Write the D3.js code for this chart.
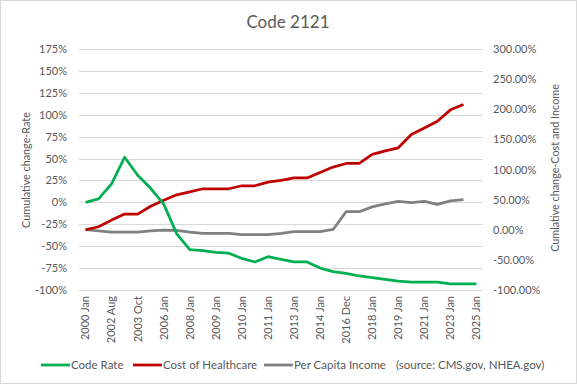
<!DOCTYPE html>
<html>
<head>
<meta charset="utf-8">
<script src="https://cdn.jsdelivr.net/npm/d3@7"></script>
<style>
  body { margin: 0; background: #fff; }
  text { font-family: Lato, "Open Sans", sans-serif; fill: #595959; }
</style>
</head>
<body>
<div id="chart"></div>
<script>
var svgWidth = 577;
var svgHeight = 384;

// categories (only every other one is labelled on the axis)
var periods = ["2000 Jan", "2001 Jan", "2002 Aug", "2003 Jan", "2003 Oct", "2005 Jan",
  "2006 Jan", "2007 Jan", "2008 Jan", "2008 Jul", "2009 Jan", "2009 Jul", "2010 Jan",
  "2010 Jul", "2011 Jan", "2012 Jan", "2013 Jan", "2013 Jul", "2014 Jan", "2015 Jan",
  "2016 Dec", "2017 Jan", "2018 Jan", "2018 Jul", "2019 Jan", "2020 Jan", "2021 Jan",
  "2022 Jan", "2023 Jan", "2024 Jan", "2025 Jan"];

// cumulative change, left axis (fraction)
var codeRate = [0, 0.04, 0.21, 0.515, 0.31, 0.16, -0.02, -0.36, -0.54, -0.55, -0.57,
  -0.58, -0.64, -0.68, -0.62, -0.65, -0.68, -0.68, -0.75, -0.79, -0.81, -0.84, -0.86,
  -0.88, -0.90, -0.91, -0.91, -0.91, -0.93, -0.93, -0.93];

// cumulative change, right axis (fraction); no 2025 value
var costHealthcare = [0, 0.05, 0.16, 0.26, 0.26, 0.39, 0.49, 0.58, 0.63, 0.68, 0.68,
  0.68, 0.73, 0.73, 0.79, 0.82, 0.86, 0.86, 0.95, 1.04, 1.10, 1.10, 1.25, 1.31, 1.36,
  1.58, 1.69, 1.80, 1.99, 2.08];

var perCapitaIncome = [0, -0.02, -0.04, -0.04, -0.04, -0.02, -0.005, -0.01, -0.04,
  -0.06, -0.06, -0.06, -0.08, -0.08, -0.08, -0.06, -0.03, -0.03, -0.03, 0.005, 0.30,
  0.30, 0.38, 0.43, 0.47, 0.45, 0.47, 0.42, 0.48, 0.50];

var leftTicks = [-1, -0.75, -0.5, -0.25, 0, 0.25, 0.5, 0.75, 1, 1.25, 1.5, 1.75];
var rightTicks = [-1, -0.5, 0, 0.5, 1, 1.5, 2, 2.5, 3];

var plot = { left: 79, right: 483, top: 49, bottom: 290 };

var svg = d3.select("#chart")
  .append("svg")
  .attr("width", svgWidth)
  .attr("height", svgHeight);

// chart border
svg.append("rect")
  .attr("x", 0.5).attr("y", 0.5)
  .attr("width", svgWidth - 1).attr("height", svgHeight - 1)
  .attr("fill", "#fff")
  .attr("stroke", "#d9d9d9");

var x = d3.scaleBand()
  .domain(periods)
  .range([plot.left, plot.right])
  .padding(0);

var yLeft = d3.scaleLinear().domain([-1, 1.75]).range([plot.bottom, plot.top]);
var yRight = d3.scaleLinear().domain([-1, 3]).range([plot.bottom, plot.top]);

var xc = d => x(d) + x.bandwidth() / 2;

// gridlines
svg.append("g")
  .selectAll("line")
  .data(leftTicks)
  .enter()
  .append("line")
  .attr("x1", plot.left).attr("x2", plot.right)
  .attr("y1", d => Math.round(yLeft(d)) + 0.5)
  .attr("y2", d => Math.round(yLeft(d)) + 0.5)
  .attr("stroke", "#d9d9d9");

// left axis
var leftAxis = d3.axisLeft(yLeft)
  .tickValues(leftTicks)
  .tickSize(0)
  .tickPadding(12)
  .tickFormat(d => Math.round(d * 100) + "%");

svg.append("g")
  .attr("transform", `translate(${plot.left}, 0)`)
  .call(leftAxis)
  .call(g => g.select(".domain").remove())
  .selectAll("text")
  .attr("font-size", 11)
  .attr("font-family", "Lato, sans-serif")
  .attr("fill", "#595959");

// right axis
var rightAxis = d3.axisRight(yRight)
  .tickValues(rightTicks)
  .tickSize(0)
  .tickPadding(10)
  .tickFormat(d => (d * 100).toFixed(2) + "%");

svg.append("g")
  .attr("transform", `translate(${plot.right}, 0)`)
  .call(rightAxis)
  .call(g => g.select(".domain").remove())
  .selectAll("text")
  .attr("font-size", 11)
  .attr("font-family", "Lato, sans-serif")
  .attr("fill", "#595959");

// bottom axis, every other category labelled
var bottomAxis = d3.axisBottom(x)
  .tickValues(periods.filter((d, i) => i % 2 === 0))
  .tickSize(0)
  .tickPadding(0);

svg.append("g")
  .attr("transform", `translate(0, ${plot.bottom})`)
  .call(bottomAxis)
  .call(g => g.select(".domain").remove())
  .selectAll("text")
  .attr("font-size", 11)
  .attr("font-family", "Lato, sans-serif")
  .attr("fill", "#595959")
  .attr("text-anchor", "end")
  .attr("dy", "0.35em")
  .attr("transform", "translate(0, 6) rotate(-90)")
  .attr("x", 0)
  .attr("y", 0);

// lines
var lineLeft = d3.line()
  .x((d, i) => xc(periods[i]))
  .y(d => yLeft(d));

var lineRight = d3.line()
  .x((d, i) => xc(periods[i]))
  .y(d => yRight(d));

svg.append("path")
  .datum(perCapitaIncome)
  .attr("fill", "none")
  .attr("stroke", "#808080")
  .attr("stroke-width", 2.75)
  .attr("stroke-linejoin", "round")
  .attr("d", lineRight);

svg.append("path")
  .datum(costHealthcare)
  .attr("fill", "none")
  .attr("stroke", "#c00000")
  .attr("stroke-width", 2.75)
  .attr("stroke-linejoin", "round")
  .attr("d", lineRight);

svg.append("path")
  .datum(codeRate)
  .attr("fill", "none")
  .attr("stroke", "#00b050")
  .attr("stroke-width", 2.75)
  .attr("stroke-linejoin", "round")
  .attr("d", lineLeft);

// title
svg.append("text")
  .attr("x", 288)
  .attr("y", 28)
  .attr("text-anchor", "middle")
  .attr("font-size", 17)
  .text("Code 2121");

// axis titles
svg.append("text")
  .attr("transform", "translate(30, 170) rotate(-90)")
  .attr("text-anchor", "middle")
  .attr("font-size", 10.8)
  .text("Cumulative change-Rate");

svg.append("text")
  .attr("transform", "translate(559, 168) rotate(-90)")
  .attr("text-anchor", "middle")
  .attr("font-size", 10.8)
  .text("Cumlative change-Cost and Income");

// legend
var legendItems = [
  { name: "Code Rate", color: "#00b050", x: 41 },
  { name: "Cost of Healthcare", color: "#c00000", x: 133 },
  { name: "Per Capita Income", color: "#808080", x: 264 }
];

var legend = svg.append("g");

legend.selectAll("line")
  .data(legendItems)
  .enter()
  .append("line")
  .attr("x1", d => d.x)
  .attr("x2", d => d.x + 29)
  .attr("y1", 365)
  .attr("y2", 365)
  .attr("stroke", d => d.color)
  .attr("stroke-width", 2.75);

legend.selectAll("text")
  .data(legendItems)
  .enter()
  .append("text")
  .attr("x", d => d.x + 30)
  .attr("y", 369)
  .attr("font-size", 11.5)
  .text(d => d.name);

svg.append("text")
  .attr("x", 396)
  .attr("y", 369)
  .attr("font-size", 11.5)
  .text("(source: CMS.gov, NHEA.gov)");
</script>
</body>
</html>
